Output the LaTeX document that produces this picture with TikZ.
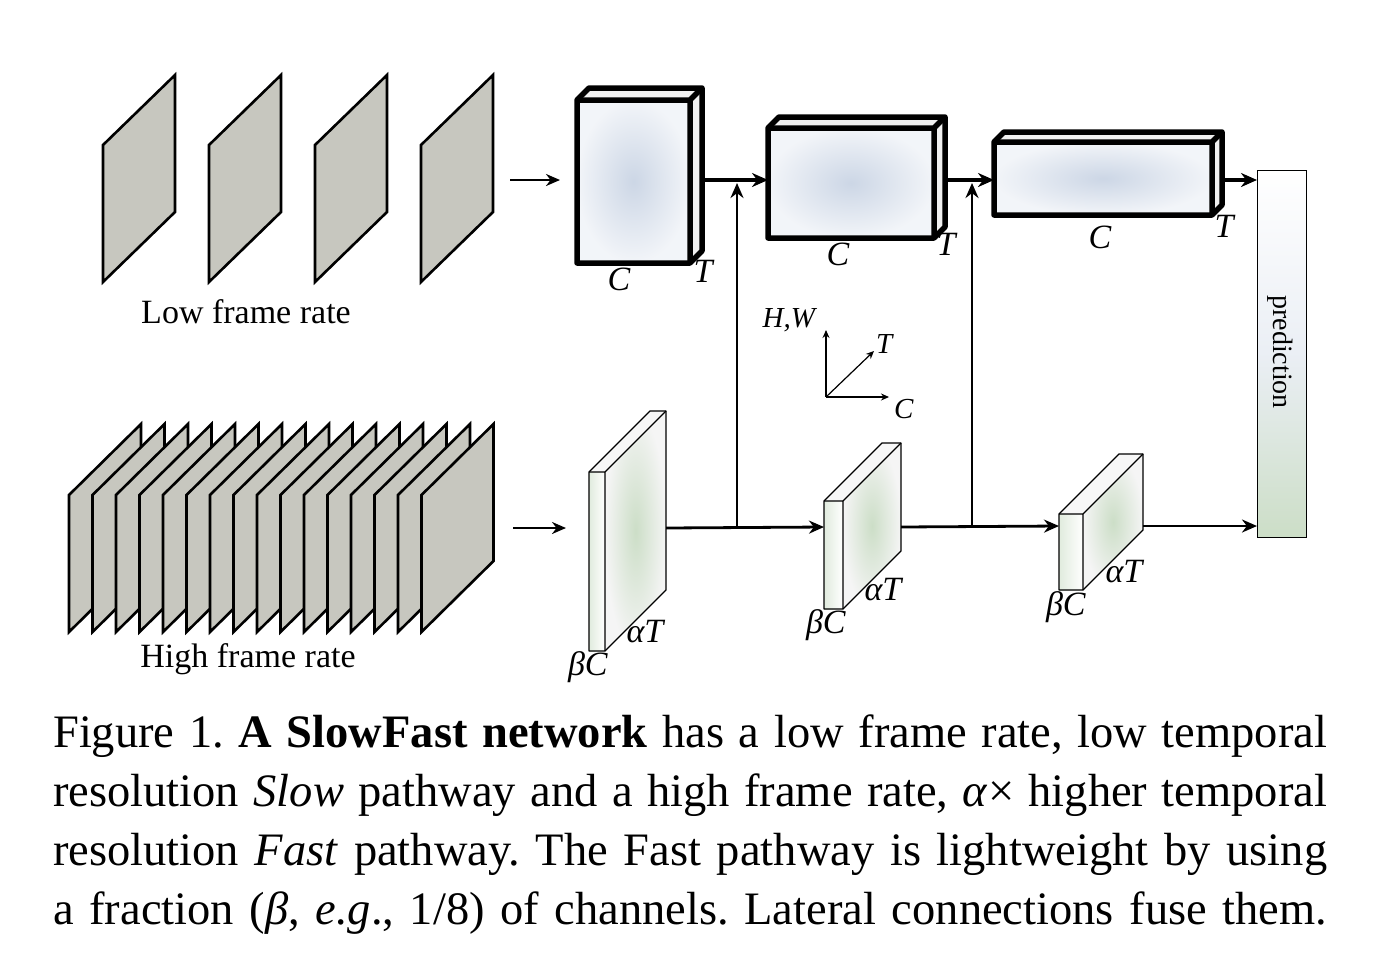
\documentclass[tikz,border=0pt]{standalone}
\usepackage{fontspec}
\setmainfont{Liberation Serif}
\usetikzlibrary{arrows.meta,calc}
\newcommand\slowblk[6]{% name x1 y1 x2 y2 d
  \fill[blockside] (#2,#3) -- ++(#6,-#6) -- ($(#4,#3)+(#6,-#6)$) -- (#4,#3) -- cycle;
  \fill[blockside] (#4,#3) -- ++(#6,-#6) -- ($(#4,#5)+(#6,-#6)$) -- (#4,#5) -- cycle;
  \shade[inner color=slowc,outer color=slowc!25] (#2,#3) rectangle (#4,#5);
  \draw[line width=5.5pt,line join=round] (#2,#3) -- ++(#6,-#6) -- ($(#4,#3)+(#6,-#6)$) -- ($(#4,#5)+(#6,-#6)$) -- (#4,#5) -- (#2,#5) -- cycle;
  \draw[line width=5.5pt,line join=round] (#2,#3) -- (#4,#3) -- ++(#6,-#6) (#4,#3) -- (#4,#5);
  \coordinate (#1l) at (#2,180); \coordinate (#1r) at ($(#4,180)+(#6,0)$);
}
\newcommand\fastblk[7]{% name x1 y1 x2 y2 d
  \fill[fill=gray!6] (#2,#3) -- ++(#6,-#6) -- ($(#4,#3)+(#6,-#6)$) -- (#4,#3) -- cycle;
  \shade[inner color=fastc,outer color=white!92!gray] (#4,#3) -- ++(#6,-#6) -- ($(#4,#5)+(#6,-#6)$) -- (#4,#5) -- cycle;
  \shade[left color=fastc!60,right color=white] (#2,#3) rectangle (#4,#5);
  \draw[line width=1.3pt,line join=round] (#2,#3) -- ++(#6,-#6) -- ($(#4,#3)+(#6,-#6)$) -- ($(#4,#5)+(#6,-#6)$) -- (#4,#5) -- (#2,#5) -- cycle;
  \draw[line width=1.3pt] (#2,#3) -- (#4,#3) -- ++(#6,-#6) (#4,#3) -- (#4,#5);
  \coordinate (#1l) at (#2,#7); \coordinate (#1r) at ($(#4,#7)+(#6,0)$);
}
\definecolor{slowc}{rgb}{0.80,0.84,0.90}
\definecolor{fastc}{rgb}{0.80,0.87,0.78}
\definecolor{framec}{rgb}{0.78,0.78,0.75}
\newcommand\iv[1]{\textit{#1}}
\tikzset{blockside/.style={fill=gray!12},
  frame/.style={fill=framec,draw=black,line width=2.6pt,line join=miter},
  slowarr/.style={line width=3.8pt,-{Stealth[length=16pt,width=14pt]}},
  fastarr/.style={line width=2.8pt,-{Stealth[length=15pt,width=13pt]}},
  lbl/.style={font=\fontsize{34}{36}\selectfont},
  ax/.style={font=\fontsize{29}{31}\selectfont},
  captxt/.style={anchor=base west,inner sep=0pt,font=\fontsize{46.5}{50}\selectfont}}
\begin{document}
\frenchspacing
\begin{tikzpicture}[x=1pt,y=-1pt]
\useasboundingbox (0,0) rectangle (1388,962);
% low frames
\foreach \i in {0,...,3}{
  \draw[frame] (103+106*\i,282) -- ++(0,-137) -- ++(72,-70) -- ++(0,137) -- cycle;}
\node[lbl] (lowlbl) at (246,312) {Low frame rate};
% high frames
\foreach \i in {0,...,15}{
  \draw[frame] (69+23.5*\i,632) -- ++(0,-137) -- ++(72,-71) -- ++(0,137) -- cycle;}
\node[lbl] (highlbl) at (248,659) {High frame rate};
% slow blocks
\slowblk{s1}{577}{100}{690}{263}{12}
\slowblk{s2}{768}{128}{934}{238}{11}
\slowblk{s3}{994}{142}{1212}{215}{10}
% fast blocks
\fastblk{f1}{589}{472}{605}{651}{61}{528}
\fastblk{f2}{824}{501}{843}{609}{58}{527}
\fastblk{f3}{1059}{514}{1083}{590}{60}{526}
% prediction
\shade[top color=white,bottom color=fastc,middle color=slowc!40] (1257,170) rectangle (1306,537);
\draw[line width=1pt] (1257,170) rectangle (1306,537);
\node[rotate=-90,font=\fontsize{28}{30}\selectfont] (pred) at (1280,352) {prediction};
\coordinate (pt) at (1257,180); \coordinate (pb) at (1257,526);
% inputs
\coordinate (li) at (510,180); \coordinate (hi) at (513,528);
\draw[line width=2.6pt,-{Stealth[length=14pt,width=12pt]}] (li) -- (560,180);
\draw[line width=2.6pt,-{Stealth[length=14pt,width=12pt]}] (hi) -- (566,528);
% slow path
\draw[slowarr] (s1r) -- (s2l);
\draw[slowarr] (s2r) -- (s3l);
\draw[slowarr] (s3r) -- (pt);
% fast path
\draw[fastarr] (f1r) -- (f2l);
\draw[fastarr] (f2r) -- (f3l);
\draw[fastarr] (f3r) -- (pb);
% laterals
\coordinate (a1) at (737,528); \coordinate (a2) at (972,527);
\draw[fastarr] (a1) -- (737,183);
\draw[fastarr] (a2) -- (972,183);
% labels
\node[lbl] at (619,279) {\iv{C}}; \node[lbl] at (704,271) {\iv{T}};
\node[lbl] at (838,254) {\iv{C}}; \node[lbl] at (947,244) {\iv{T}};
\node[lbl] at (1100,237) {\iv{C}}; \node[lbl] at (1225,226) {\iv{T}};
\node[lbl] at (588,667) {\iv{βC}}; \node[lbl] at (646,632) {\iv{αT}};
\node[lbl] at (826,625) {\iv{βC}}; \node[lbl] at (884,590) {\iv{αT}};
\node[lbl] at (1066,607) {\iv{βC}}; \node[lbl] at (1125,572) {\iv{αT}};
% axes
\coordinate (o) at (826,397);
\draw[line width=1.2pt,-{Stealth[length=8pt,width=7pt]}] (o) -- (826,330);
\draw[line width=1.2pt,-{Stealth[length=8pt,width=7pt]}] (o) -- (889,397);
\draw[line width=1.2pt,-{Stealth[length=8pt,width=7pt]}] (o) -- (874,351);
\node[ax] at (790,320) {\iv{H,W}};
\node[ax] at (885,344) {\iv{T}};
\node[ax] at (904,409) {\iv{C}};
% caption
\node[captxt] at (53,747) {\makebox[1274pt][s]{Figure 1. \textbf{A SlowFast network} has a low frame rate, low temporal}};
\node[captxt] at (53,806) {\makebox[1274pt][s]{resolution \textit{Slow} pathway and a high frame rate, \textit{α}× higher temporal}};
\node[captxt] at (53,865) {\makebox[1274pt][s]{resolution \textit{Fast} pathway. The Fast pathway is lightweight by using}};
\node[captxt] at (53,924) {\makebox[1274pt][s]{a fraction (\textit{β}, \textit{e.g}., 1/8) of channels. Lateral connections fuse them.}};
\end{tikzpicture}
\end{document}
